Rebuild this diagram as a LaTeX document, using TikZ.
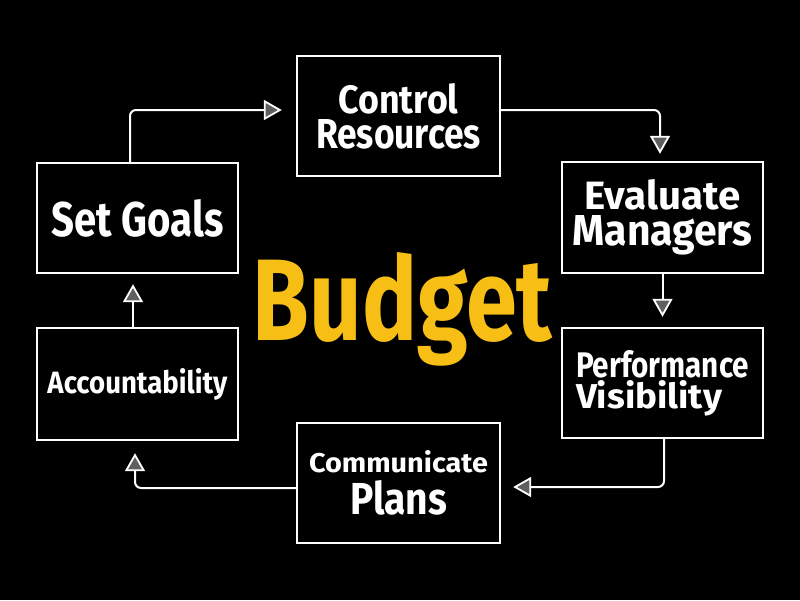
\documentclass[tikz,border=0pt]{standalone}
\usepackage{fontspec}
\setmainfont{Fira Sans}
\usetikzlibrary{arrows.meta}
\definecolor{budgetyellow}{RGB}{247,190,22}
\definecolor{tipfill}{RGB}{95,95,95}
\newcommand{\fitline}[3]{\resizebox{#1}{#2}{#3}}
\tikzset{
  stepbox/.style={draw=white, line width=2.4pt, fill=black, text=white, inner sep=0pt, align=center},
  conn/.style={draw=white, line width=2pt, rounded corners=6pt,
    -{Triangle[length=18pt, width=20pt, line width=1.8pt, fill=tipfill]}},
}
\begin{document}
\begin{tikzpicture}[x=1pt,y=-1pt]
\fill[black] (0,0) rectangle (800,600);
\useasboundingbox (0,0) rectangle (800,600);

\node[stepbox, minimum width=201pt, minimum height=110pt, font=\fontsize{30}{34}\selectfont\bfseries] (sg) at (137.5,218)
  {\fitline{172pt}{37pt}{Set Goals}};
\node[stepbox, minimum width=203pt, minimum height=120pt, font=\fontsize{30}{35}\selectfont\bfseries] (cr) at (398.5,116)
  {\fitline{120pt}{30pt}{Control}\\\fitline{165pt}{29pt}{Resources}};
\node[stepbox, minimum width=201pt, minimum height=111pt, font=\fontsize{30}{36}\selectfont\bfseries] (ev) at (662.5,217.5)
  {\fitline{156pt}{30pt}{Evaluate}\\\fitline{180pt}{30pt}{Managers}};
\node[stepbox, align=left, minimum width=201pt, minimum height=110pt, font=\fontsize{28}{31}\selectfont\bfseries] (pv) at (662.5,383)
  {\fitline{173pt}{27pt}{Performance}\\\fitline{146pt}{28pt}{Visibility}};
\node[stepbox, minimum width=203pt, minimum height=120pt, font=\fontsize{30}{42}\selectfont\bfseries] (cp) at (398.5,483)
  {\fitline{179pt}{22pt}{Communicate}\\\fitline{97pt}{34pt}{Plans}};
\node[stepbox, minimum width=201pt, minimum height=112pt, font=\fontsize{26}{30}\selectfont\bfseries] (acc) at (137.5,384)
  {\fitline{180pt}{25pt}{Accountability}};

\node[anchor=base, inner sep=0pt, text=budgetyellow] (budget) at (402.5,340)
  {\fitline{299pt}{88pt}{\bfseries Budget}};

\draw[conn] ([xshift=-7.5pt]sg.north) |- ([xshift=-14pt,yshift=6pt]cr.west);
\draw[conn] ([yshift=6pt]cr.east) -| ([xshift=-2.5pt,yshift=7pt]ev.north);
\draw[conn] (ev.south) -- ([yshift=10pt]pv.north);
\draw[conn] ([xshift=1.5pt]pv.south) |- ([xshift=12pt,yshift=-4pt]cp.east);
\draw[conn] ([yshift=-5pt]cp.west) -| ([xshift=-2.5pt,yshift=-12pt]acc.south);
\draw[conn] ([xshift=-4.5pt]acc.north) -- ([xshift=-4.5pt,yshift=-10pt]sg.south);
\end{tikzpicture}
\end{document}
